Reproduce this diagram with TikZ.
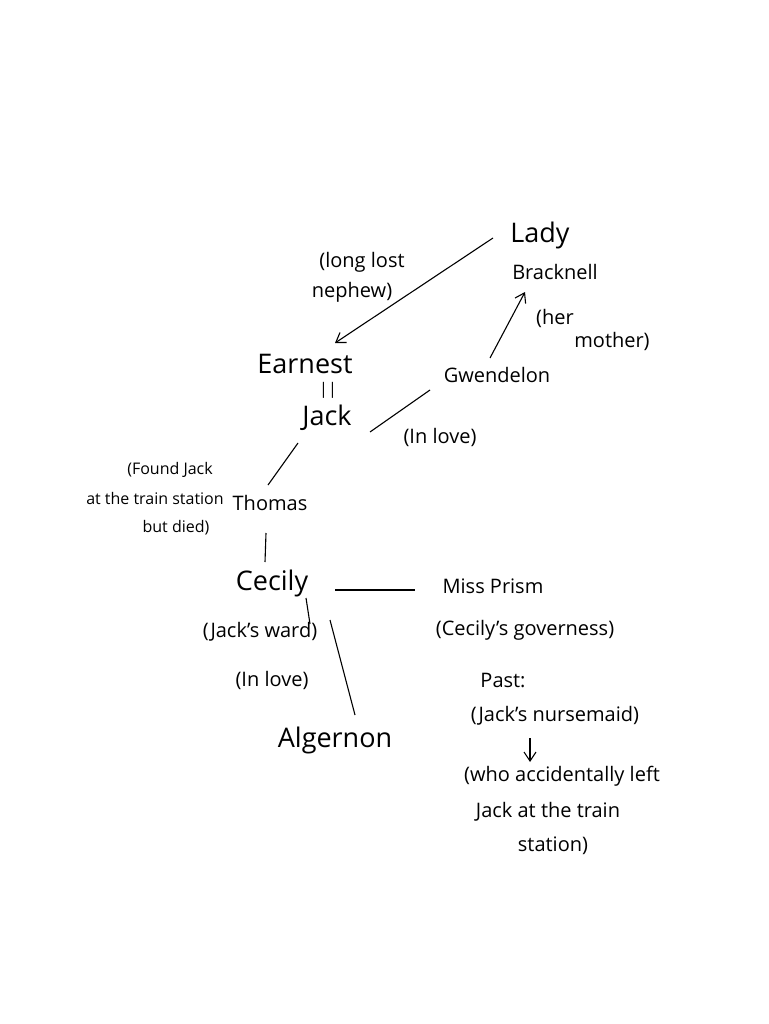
\documentclass[tikz,border=0pt]{standalone}
\usetikzlibrary{arrows.meta}
\usepackage{fontspec}
\setmainfont{Open Sans}
\begin{document}
\begin{tikzpicture}[x=1pt,y=-1pt,
  t/.style={inner sep=0pt,font=\fontsize{20}{20}\selectfont},
  big/.style={inner sep=0pt,font=\fontsize{27}{27}\selectfont},
  sm/.style={inner sep=0pt,font=\fontsize{16}{16}\selectfont},
  ln/.style={line width=1.1pt},
  ar/.style={line width=1.1pt,-{Straight Barb[length=9pt,width=12pt]}}]
\useasboundingbox (0,0) rectangle (768,1024);
\node[big] (lady) at (540,235) {Lady};
\node[t] (brack) at (555,272) {Bracknell};
\node[t] (long) at (362,262) {(long lost};
\node[t] (neph) at (352,292) {nephew)};
\node[t] (her) at (555,318) {(her};
\node[t] (moth) at (612,341) {mother)};
\node[big] (earn) at (305,364) {Earnest};
\node[sm] (eq) at (328,390) {||};
\node[big] (jack) at (327,418) {Jack};
\node[t] (gwen) at (497,375) {Gwendelon};
\node[t] (love1) at (440,437) {(In love)};
\node[sm] (f1) at (170,470) {(Found Jack};
\node[sm] (f2) at (155,498) {at the train station};
\node[sm] (f3) at (176,528) {but died)};
\node[t] (thom) at (270,503) {Thomas};
\node[big] (cec) at (272,583) {Cecily};
\node[t] (ward) at (260,632) {(Jack's ward)};
\node[t] (love2) at (272,680) {(In love)};
\node[big] (alg) at (335,740) {Algernon};
\node[t] (miss) at (493,586) {Miss Prism};
\node[t] (gov) at (525,630) {(Cecily's governess)};
\node[t] (past) at (503,680) {Past:};
\node[t] (nurse) at (555,716) {(Jack's nursemaid)};
\node[t] (who) at (562,776) {(who accidentally left};
\node[t] (jtt) at (548,812) {Jack at the train};
\node[t] (stat) at (553,846) {station)};
\coordinate (a1) at (493,238); \coordinate (a2) at (335,343);
\coordinate (b1) at (490,358); \coordinate (b2) at (525,292);
\coordinate (c1) at (430,390); \coordinate (c2) at (370,432);
\coordinate (d1) at (298,443); \coordinate (d2) at (268,485);
\coordinate (e1) at (266,533); \coordinate (e2) at (265,562);
\coordinate (g1) at (335,590); \coordinate (g2) at (415,590);
\coordinate (h1) at (306,598); \coordinate (h2) at (310,624);
\coordinate (i1) at (330,620); \coordinate (i2) at (355,715);
\coordinate (j1) at (530,738); \coordinate (j2) at (530,762);
\draw[ar] (a1) -- (a2);
\draw[ar] (b1) -- (b2);
\draw[ln] (c1) -- (c2);
\draw[ln] (d1) -- (d2);
\draw[ln] (e1) -- (e2);
\draw[ln] (g1) -- (g2);
\draw[ln] (h1) -- (h2);
\draw[ln] (i1) -- (i2);
\draw[ar] (j1) -- (j2);
\end{tikzpicture}
\end{document}
